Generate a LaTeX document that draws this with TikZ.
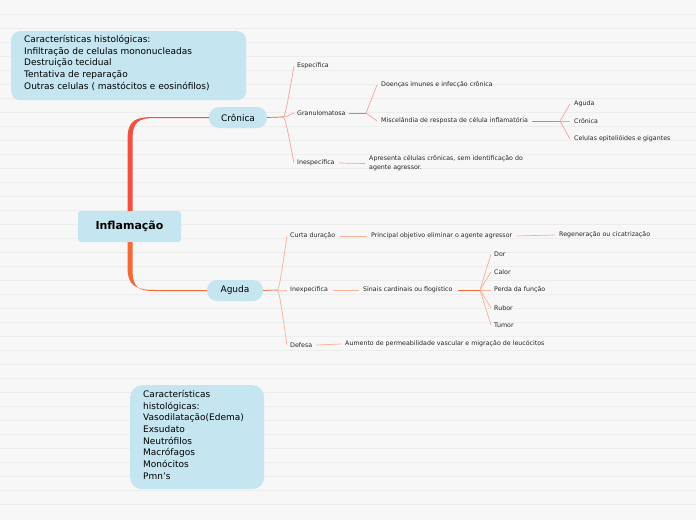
\documentclass[tikz,border=0pt]{standalone}
\usepackage{fontspec}
\setmainfont{DejaVu Sans}
\begin{document}
\begin{tikzpicture}[x=1pt,y=-1pt,
  leaf/.style={anchor=west,inner sep=0pt,font=\fontsize{6.3}{7.5}\selectfont,text=black!85},
  bubble/.style={fill=cyan!40!blue!15!white,fill=bubblec,rounded corners=9pt,inner sep=0pt},
  cl/.style={draw=chr,line width=0.7pt},
  al/.style={draw=agu,line width=0.7pt}]
\definecolor{bubblec}{HTML}{C5E5F0}
\definecolor{chr}{HTML}{F4A39A}
\definecolor{agu}{HTML}{F8B095}
\definecolor{trunk}{HTML}{F0503F}
\definecolor{trunk2}{HTML}{F06A3A}
\useasboundingbox (0,0) rectangle (696,520);
\fill[black!3] (0,0) rectangle (696,520);
\foreach \y in {14,28,...,510} \draw[black!7,line width=0.4pt] (0,\y) -- (696,\y);
% notes
\node[bubble,minimum width=235pt,minimum height=69pt,anchor=north west] (n1) at (11,31) {};
\node[anchor=north west,align=left,inner sep=0pt,font=\fontsize{9}{11.7}\selectfont] (t1) at (24,35) {Características histológicas:\\Infiltração de celulas mononucleadas\\Destruição tecidual\\Tentativa de reparação\\Outras celulas ( mastócitos e eosinófilos)};
\node[bubble,minimum width=134pt,minimum height=104pt,anchor=north west,rounded corners=12pt] (n2) at (130,385) {};
\node[anchor=north west,align=left,inner sep=0pt,font=\fontsize{9}{11.7}\selectfont] (t2) at (143,390) {Características\\histológicas:\\Vasodilatação(Edema)\\Exsudato\\Neutrófilos\\Macrófagos\\Monócitos\\Pmn's};
% main
\node[fill=bubblec,rounded corners=3pt,minimum width=103pt,minimum height=31pt,font=\fontsize{11}{13}\selectfont\bfseries] (inf) at (129.5,226.5) {Inflamação};
\node[fill=bubblec,rounded corners=10pt,minimum width=58pt,minimum height=21pt,font=\fontsize{9}{11}\selectfont] (cro) at (238,117.5) {Crônica};
\node[fill=bubblec,rounded corners=10pt,minimum width=56pt,minimum height=21pt,font=\fontsize{9}{11}\selectfont] (agu) at (235,290.5) {Aguda};
\fill[trunk] (127.5,211) -- (127.5,140) .. controls (127.5,120) and (135,117) .. (155,117) -- (209,117) -- (209,118) -- (155,118) .. controls (138,118) and (132.5,122) .. (132.5,140) -- (132.5,211) -- cycle;
\fill[trunk2] (127.5,242) -- (127.5,268) .. controls (127.5,285) and (135,290) .. (155,290) -- (207,290) -- (207,291) -- (155,291) .. controls (138,291) and (132.5,288) .. (132.5,268) -- (132.5,242) -- cycle;
% chronic
\node[leaf] (esp) at (297,66) {Específica};
\node[leaf] (gra) at (297,113) {Granulomatosa};
\node[leaf] (ine) at (297,163) {Inespecífica};
\coordinate (c0) at (282,117);
\draw[cl,draw=trunk] (cro.east) -- (c0);
\foreach \n in {esp,gra,ine} \draw[cl] (c0) .. controls (285,117) .. ([xshift=-3pt]\n.west);
\node[leaf] (doe) at (381,85) {Doenças imunes e infecção crônica};
\node[leaf] (mis) at (381,121) {Miscelândia de resposta de célula inflamatória};
\coordinate (c1) at (366,113);
\draw[cl,draw=trunk!80] ([xshift=3pt]gra.east) -- (c1);
\foreach \n in {doe,mis} \draw[cl] (c1) -- ([xshift=-4pt]\n.west);
\node[leaf] (ag2) at (574,104) {Aguda};
\node[leaf] (cr2) at (574,121) {Crônica};
\node[leaf] (cel) at (574,139) {Celulas epitelióides e gigantes};
\coordinate (c2) at (560,121);
\draw[cl,draw=trunk!80] ([xshift=4pt]mis.east) -- (c2);
\foreach \n in {ag2,cr2,cel} \draw[cl] (c2) -- ([xshift=-4pt]\n.west);
\node[leaf,align=left,font=\fontsize{6.3}{9}\selectfont] (apr) at (369,163.5) {Apresenta células crônicas, sem identificação do\\agente agressor.};
\draw[cl] ([xshift=4pt]ine.east) -- ([xshift=-4pt]apr.west);
% acute
\node[leaf] (cur) at (290,236) {Curta duração};
\node[leaf] (inx) at (290,290) {Inexpecifica};
\node[leaf] (def) at (290,345) {Defesa};
\coordinate (a0) at (276,290);
\draw[al,draw=trunk2] (agu.east) -- (a0);
\foreach \n in {cur,inx,def} \draw[al] (a0) .. controls (279,290) .. ([xshift=-3pt]\n.west);
\node[leaf] (pri) at (371,236) {Principal objetivo eliminar o agente agressor};
\node[leaf] (reg) at (559,235) {Regeneração ou cicatrização};
\draw[al] ([xshift=5pt]cur.east) -- ([xshift=-4pt]pri.west);
\draw[al] ([xshift=4pt]pri.east) -- ([xshift=-4pt]reg.west);
\node[leaf] (sin) at (363,290) {Sinais cardinais ou flogístico};
\draw[al] ([xshift=5pt]inx.east) -- ([xshift=-4pt]sin.west);
\coordinate (a1) at (480,290);
\draw[al,draw=trunk2] ([xshift=5pt]sin.east) -- (a1);
\node[leaf] (dor) at (494,254) {Dor};
\node[leaf] (cal) at (494,272) {Calor};
\node[leaf] (per) at (494,290) {Perda da função};
\node[leaf] (rub) at (494,308) {Rubor};
\node[leaf] (tum) at (494,325) {Tumor};
\foreach \n in {dor,cal,per,rub,tum} \draw[al] (a1) -- ([xshift=-3pt]\n.west);
\node[leaf] (aum) at (345,344) {Aumento de permeabilidade vascular e migração de leucócitos};
\draw[al] ([xshift=4pt]def.east) -- ([xshift=-4pt]aum.west);
\end{tikzpicture}
\end{document}
